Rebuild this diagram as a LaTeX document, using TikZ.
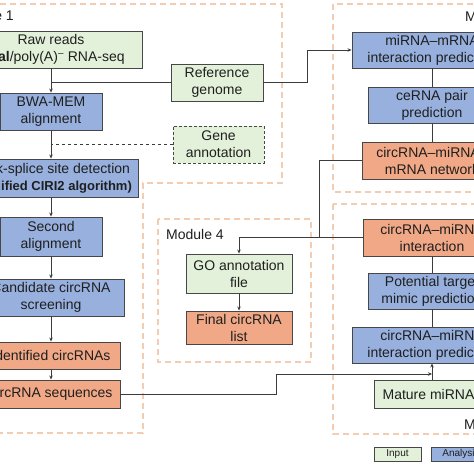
\documentclass[tikz,border=0pt]{standalone}
\usepackage{fontspec}
\setmainfont{Liberation Sans}
\usetikzlibrary{arrows.meta}
\definecolor{gfill}{HTML}{E3F1DA}
\definecolor{bfill}{HTML}{97B0DE}
\definecolor{ofill}{HTML}{F1A886}
\definecolor{boxline}{HTML}{474747}
\definecolor{modline}{HTML}{F2CDB2}
\definecolor{conn}{HTML}{3C3C3C}
\tikzset{
  box/.style={draw=boxline, line width=0.9pt, inner sep=0pt, align=center,
    font=\fontsize{14}{17}\selectfont, text=black!88},
  sz/.style 2 args={minimum width=#1pt, minimum height=#2pt},
  inp/.style={box, fill=gfill},
  ana/.style={box, fill=bfill},
  res/.style={box, fill=ofill},
  module/.style={draw=modline, line width=1.6pt, dash pattern=on 6pt off 4pt},
  modlabel/.style={font=\fontsize{14}{16}\selectfont, inner sep=0pt, text=black!88},
  conline/.style={draw=conn, line width=0.9pt},
  arr/.style={conline, -{Stealth[length=4pt,width=3.5pt]}},
  legend/.style={box, font=\fontsize{10}{12}\selectfont, line width=0.8pt}
}
\begin{document}
\begin{tikzpicture}[x=1pt,y=-1pt]
\useasboundingbox (0,0) rectangle (474,474);
\clip (0,0) rectangle (474,474);
\fill[white] (0,0) rectangle (474,474);

% module frames
\draw[module] (-10,4) -- (282,4) -- (282,183) -- (143,183) -- (143,433) -- (-10,433);
\draw[module] (158,219) rectangle (311,362);
\draw[module] (333,4) rectangle (490,192);
\draw[module] (333,204) rectangle (490,434);

\node[modlabel, anchor=east] (m1) at (14,15) {Module 1};
\node[modlabel, anchor=west] (m4) at (166,234) {Module 4};
\node[modlabel, anchor=west] (m2) at (465,16) {Module 2};
\node[modlabel, anchor=west] (m3) at (464,424) {Module 3};

% Module 1
\node[inp, sz={182}{37}] (raw) at (51,49.5) {Raw reads\\\textbf{Total}/poly(A)\textsuperscript{–} RNA-seq};
\node[inp, sz={92}{37}] (ref) at (217,82.5) {Reference\\genome};
\node[ana, sz={102}{37}] (bwa) at (51,111.5) {BWA-MEM\\alignment};
\node[inp, sz={91}{37}, dash pattern=on 3pt off 2pt] (gene) at (218.5,144.5) {Gene\\annotation};
\node[ana, sz={174}{38}] (splice) at (51,178) {Back-splice site detection\\{\fontsize{13}{16}\selectfont\bfseries (Modified CIRI2 algorithm)}};
\node[ana, sz={102}{39}] (second) at (51,236.5) {Second\\alignment};
\node[ana, sz={146}{37}] (cand) at (51,297.5) {Candidate circRNA\\screening};
\node[res, sz={138}{27}] (ident) at (51,355.5) {Identified circRNAs};
\node[res, sz={138}{28}] (seqs) at (51,394) {circRNA sequences};

% Module 4
\node[inp, sz={106}{39}] (go) at (239,273.5) {GO annotation\\file};
\node[res, sz={106}{33}] (final) at (239,327.5) {Final circRNA\\list};

% Module 2
\node[ana, sz={160}{36}] (mirna) at (432,50) {miRNA–mRNA\\interaction prediction};
\node[ana, sz={128}{36}] (cerna) at (432,105) {ceRNA pair\\prediction};
\node[res, sz={140}{37}] (network) at (432,160.5) {circRNA–miRNA–\\mRNA network};

% Module 3
\node[res, sz={138}{37}] (inter) at (432,237.5) {circRNA–miRNA\\interaction};
\node[ana, sz={128}{36}] (pot) at (432,291) {Potential target\\mimic prediction};
\node[ana, sz={160}{36}] (pred) at (432,345) {circRNA–miRNA\\interaction prediction};
\node[inp, sz={116}{28}] (mature) at (432,394) {Mature miRNAs};

% legend
\node[legend, fill=gfill, sz={47}{14}] (lin) at (397.5,454) {Input};
\node[legend, fill=bfill, sz={60}{14}] (lan) at (461,454) {Analysis};

% connectors module 1
\coordinate (j1) at (51,82.5);
\coordinate (j2) at (51,144.5);
\draw[arr] (raw.south) -- (bwa.north);
\draw[conline] (ref.west) -- (j1);
\draw[conline, dashed] (gene.west) -- (j2);
\draw[arr] (bwa.south) -- (splice.north);
\draw[arr] (splice.south) -- (second.north);
\draw[arr] (second.south) -- (cand.north);
\draw[arr] (cand.south) -- (ident.north);
\draw[arr] (ident.south) -- (seqs.north);

% reference genome to module 2
\coordinate (r1) at (307,82.5);
\coordinate (r2) at (307,50);
\draw[arr] (ref.east) -- (r1) -- (r2) -- (mirna.west);
\draw[conline] (mirna.south) -- (cerna.north);
\draw[conline] (cerna.south) -- (network.north);

% to GO annotation
\coordinate (n1) at (319,160.5);
\coordinate (n2) at (319,237.5);
\coordinate (g1) at (239,237.5);
\draw[conline] (network.west) -- (n1) -- (n2);
\draw[arr] (inter.west) -- (g1) -- (go.north);
\draw[arr] (go.south) -- (final.north);

% module 3
\draw[conline] (pot.north) -- (inter.south);
\draw[conline] (pred.north) -- (pot.south);
\draw[arr] (mature.north) -- (pred.south);
\coordinate (s1) at (276,394);
\coordinate (s2) at (276,374);
\coordinate (s3) at (432,374);
\draw[arr] (seqs.east) -- (s1) -- (s2) -- (s3);
\end{tikzpicture}
\end{document}
